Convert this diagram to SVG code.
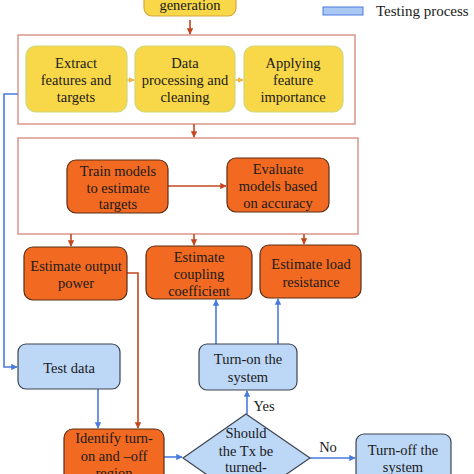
<svg xmlns="http://www.w3.org/2000/svg" width="474" height="474" viewBox="0 0 474 474">
<defs>
<style>
text{font-family:"Liberation Serif","Times New Roman",serif;font-size:14.5px;fill:#1a1a1a;text-anchor:middle}
.y{fill:#f8d748;stroke:#cfd87a;stroke-width:1.2}
.g{fill:#f8d748;stroke:#d9a63a;stroke-width:1.2}
.o{fill:#f26a21;stroke:#5a2c14;stroke-width:1.2}
.b{fill:#bdd7f6;stroke:#3c4452;stroke-width:1.2}
.frame{fill:#fff;stroke:#d9968a;stroke-width:1.5}
.rc{fill:none;stroke:#c4471f;stroke-width:1.6}
.bc{fill:none;stroke:#4a7bdf;stroke-width:1.6}
.yc{fill:none;stroke:#f3b33c;stroke-width:1.4}
</style>
<marker id="ar" viewBox="0 0 10 10" refX="9" refY="5" markerWidth="4" markerHeight="4" orient="auto"><path d="M0,0L10,5L0,10z" fill="#c4471f"/></marker>
<marker id="ab" viewBox="0 0 10 10" refX="9" refY="5" markerWidth="4" markerHeight="4" orient="auto"><path d="M0,0L10,5L0,10z" fill="#4a7bdf"/></marker>
<marker id="ay" viewBox="0 0 10 10" refX="9" refY="5" markerWidth="4" markerHeight="4" orient="auto"><path d="M0,0L10,5L0,10z" fill="#f3b33c"/></marker>
</defs>
<rect width="474" height="474" fill="#fff"/>

<g id="legend">
<rect x="323" y="7" width="40" height="8" fill="#a9c8f4" stroke="#4a7bdf" stroke-width="1"/>
<text x="376" y="16" style="text-anchor:start;font-size:15px">Testing process</text>
</g>

<g id="frame1"><rect class="frame" x="18" y="35" width="337" height="89"/></g>
<g id="frame2"><rect class="frame" x="18" y="138" width="340" height="96"/></g>

<g id="connectors">
<path class="rc" d="M190,20V34" marker-end="url(#ar)"/>
<path class="rc" d="M194,124V137" marker-end="url(#ar)"/>
<path class="yc" d="M127,80H134" marker-end="url(#ay)"/>
<path class="yc" d="M235,80H243" marker-end="url(#ay)"/>
<path class="rc" d="M168,186H226" marker-end="url(#ar)"/>
<path class="rc" d="M71,234V246" marker-end="url(#ar)"/>
<path class="rc" d="M194,234V245" marker-end="url(#ar)"/>
<path class="rc" d="M304,234V244" marker-end="url(#ar)"/>
<path class="rc" d="M127,273H138V428" marker-end="url(#ar)"/>
<path class="bc" d="M18,94H4V367H17" marker-end="url(#ab)"/>
<path class="bc" d="M98,389V428" marker-end="url(#ab)"/>
<path class="bc" d="M216,344V300" marker-end="url(#ab)"/>
<path class="bc" d="M278,344V299" marker-end="url(#ab)"/>
<path class="bc" d="M247,414V391" marker-end="url(#ab)"/>
<path class="bc" d="M164,457H182" marker-end="url(#ab)"/>
<path class="bc" d="M310,458H355" marker-end="url(#ab)"/>
<text x="264" y="411">Yes</text>
<text x="328" y="452">No</text>
</g>

<g id="generation">
<rect class="g" x="144" y="-30" width="92" height="46" rx="8"/>
<text x="190" y="10">generation</text>
</g>

<g id="extract">
<rect class="y" x="26" y="46" width="101" height="66" rx="10"/>
<text x="76" y="68">Extract</text>
<text x="76" y="85">features and</text>
<text x="76" y="102">targets</text>
</g>
<g id="processing">
<rect class="y" x="135" y="46" width="100" height="66" rx="10"/>
<text x="185" y="68">Data</text>
<text x="185" y="85">processing and</text>
<text x="185" y="102">cleaning</text>
</g>
<g id="importance">
<rect class="y" x="244" y="46" width="99" height="66" rx="10"/>
<text x="293" y="68">Applying</text>
<text x="293" y="85">feature</text>
<text x="293" y="102">importance</text>
</g>

<g id="train">
<rect class="o" x="67" y="160" width="101" height="53" rx="9"/>
<text x="118" y="176">Train models</text>
<text x="118" y="193">to estimate</text>
<text x="118" y="209">targets</text>
</g>
<g id="evaluate">
<rect class="o" x="227" y="158" width="102" height="54" rx="9"/>
<text x="278" y="174">Evaluate</text>
<text x="278" y="191">models based</text>
<text x="278" y="208">on accuracy</text>
</g>

<g id="output">
<rect class="o" x="24" y="247" width="103" height="53" rx="9"/>
<text x="76" y="271">Estimate output</text>
<text x="76" y="288">power</text>
</g>
<g id="coupling">
<rect class="o" x="146" y="246" width="106" height="53" rx="9"/>
<text x="199" y="262">Estimate</text>
<text x="199" y="279">coupling</text>
<text x="199" y="296">coefficient</text>
</g>
<g id="load">
<rect class="o" x="260" y="245" width="101" height="53" rx="9"/>
<text x="311" y="269">Estimate load</text>
<text x="311" y="287">resistance</text>
</g>

<g id="testdata">
<rect class="b" x="18" y="344" width="102" height="45" rx="8"/>
<text x="69" y="373">Test data</text>
</g>
<g id="turnon">
<rect class="b" x="199" y="344" width="98" height="46" rx="8"/>
<text x="248" y="364">Turn-on the</text>
<text x="248" y="382">system</text>
</g>
<g id="identify">
<rect class="o" x="64" y="429" width="100" height="70" rx="9"/>
<text x="114" y="443">Identify turn-</text>
<text x="114" y="461">on and –off</text>
<text x="114" y="478">region</text>
</g>
<g id="decision">
<path class="b" d="M246,414L310,458L246,502L183,458z"/>
<text x="246" y="438">Should</text>
<text x="246" y="456">the Tx be</text>
<text x="246" y="472">turned-</text>
</g>
<g id="turnoff">
<rect class="b" x="356" y="434" width="95" height="60" rx="8"/>
<text x="403" y="455">Turn-off the</text>
<text x="403" y="472">system</text>
</g>
</svg>
